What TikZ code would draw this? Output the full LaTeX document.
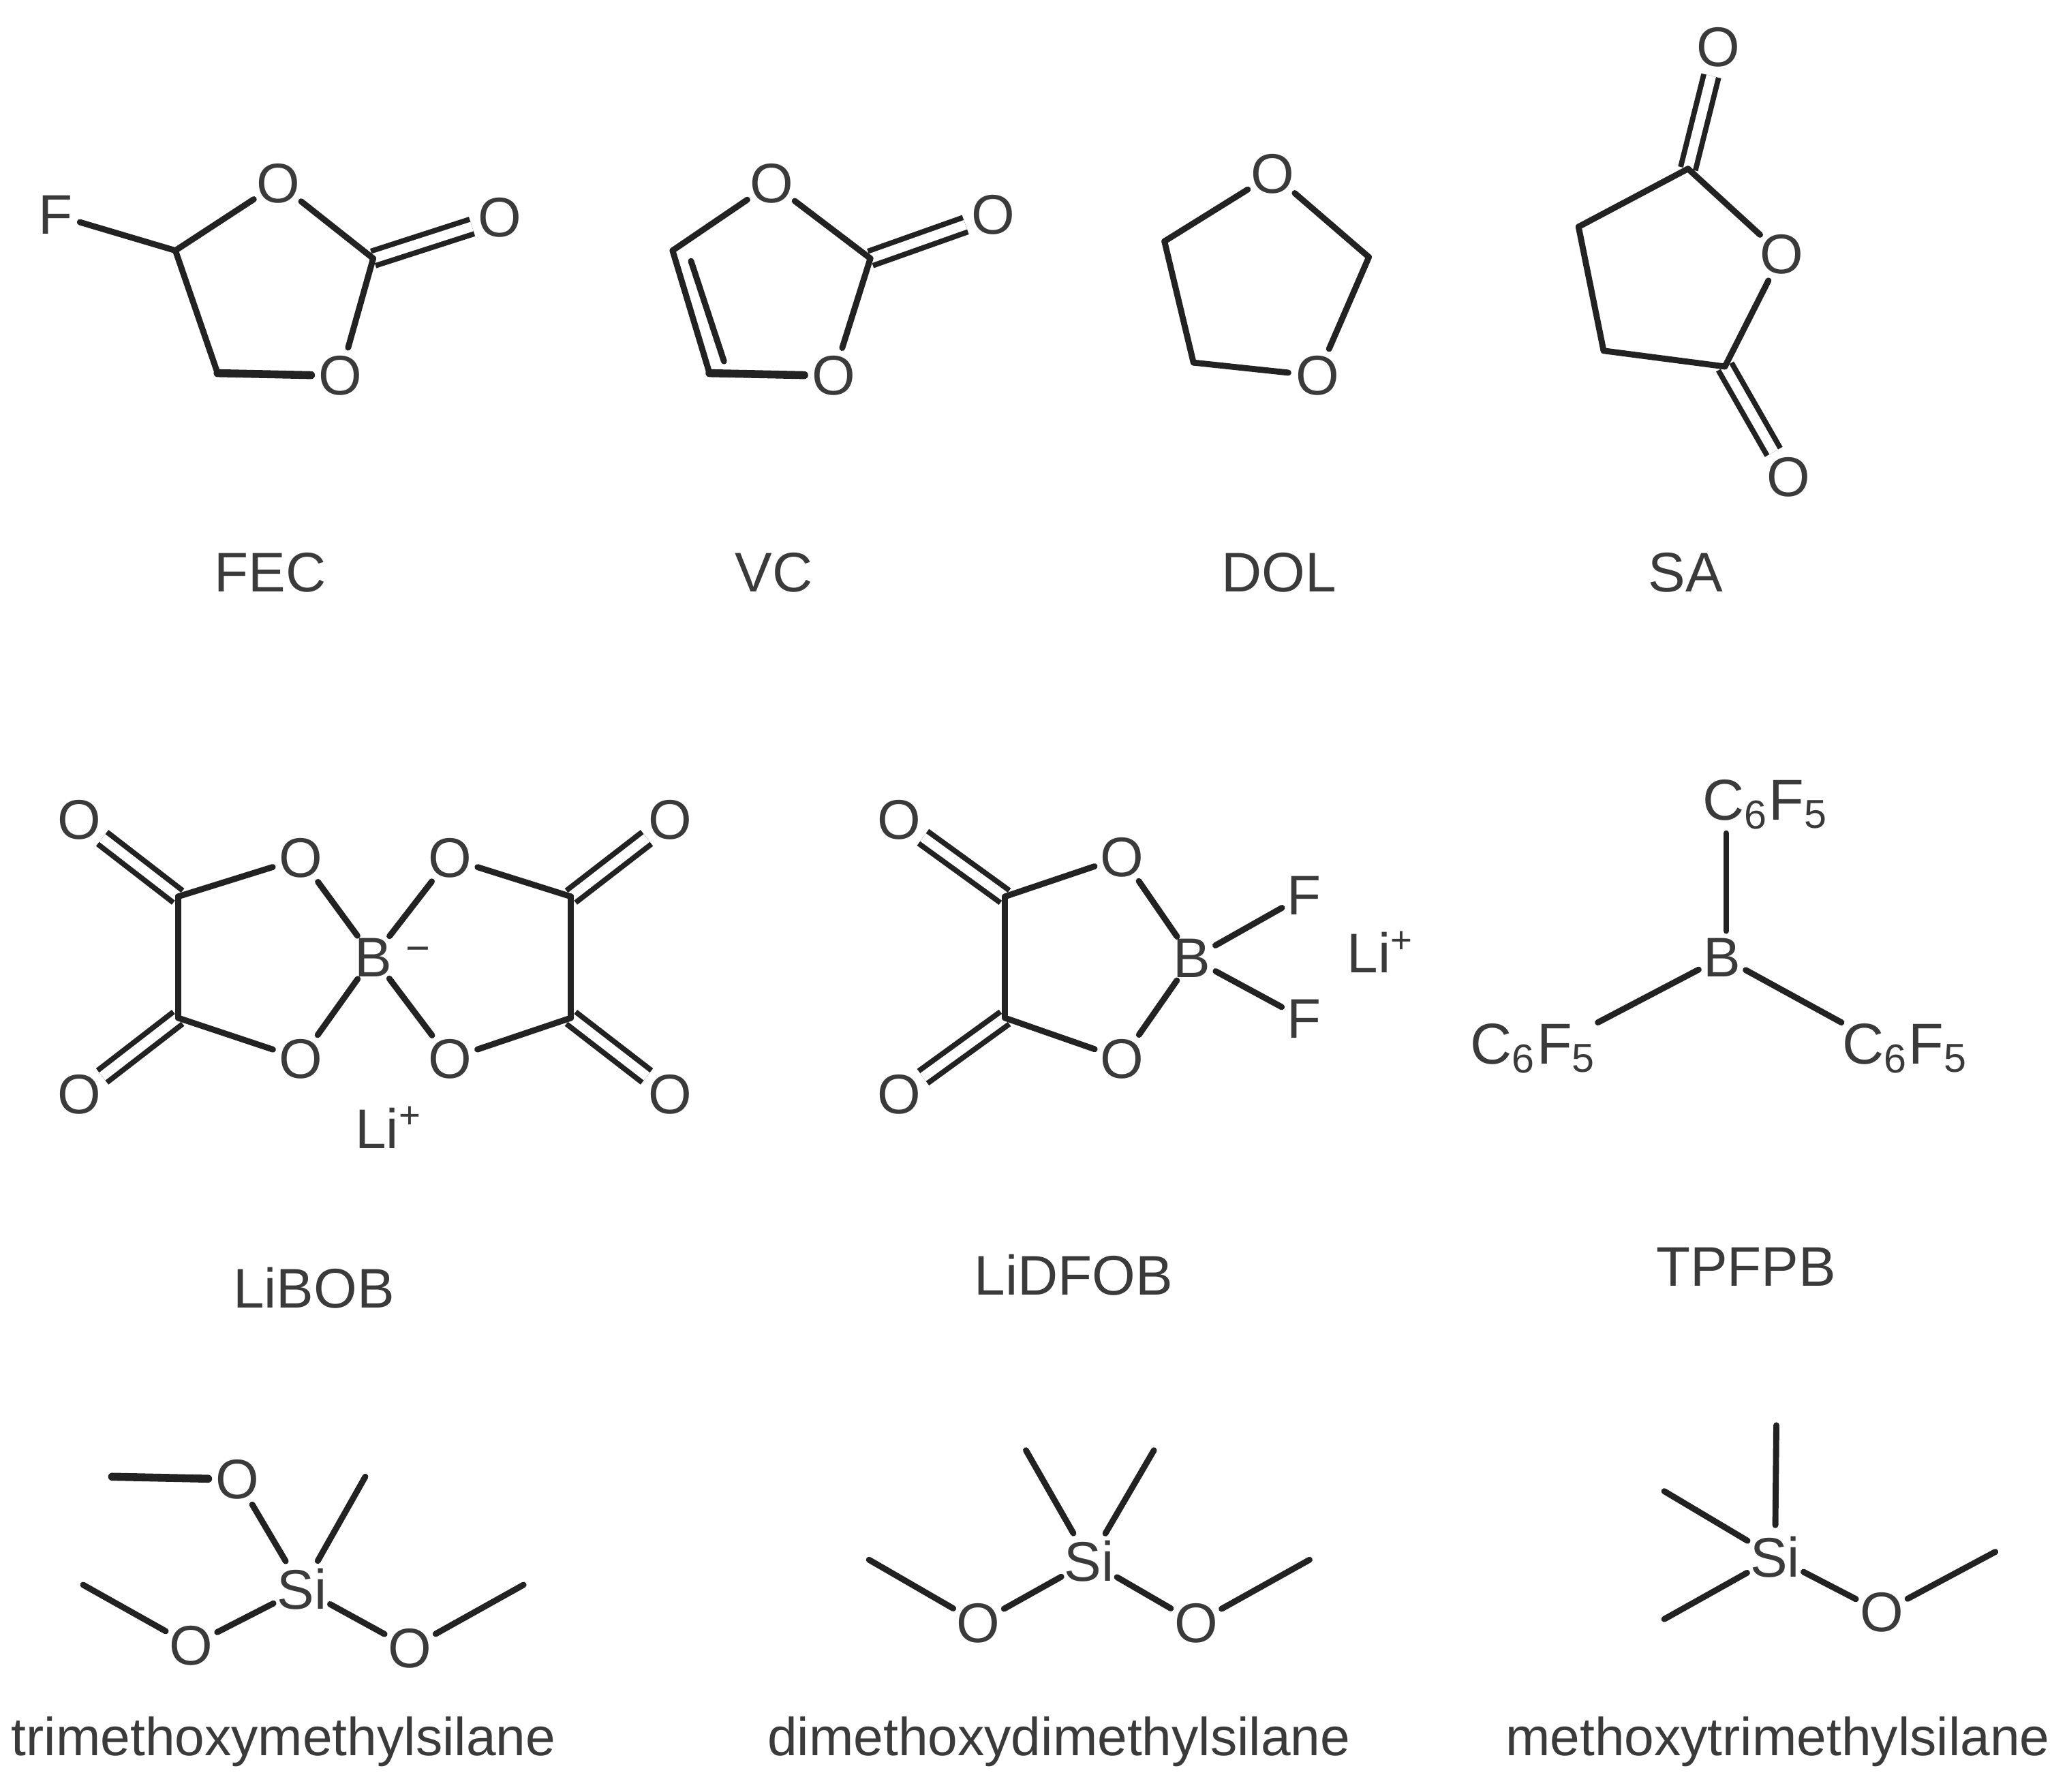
\documentclass[tikz,border=0pt]{standalone}
\usepackage{fontspec}
\setmainfont{Liberation Sans}
\definecolor{inkline}{HTML}{222222}
\definecolor{inktext}{HTML}{3A3A3A}
\tikzset{
    atom/.style={circle,inner sep=0pt,outer sep=0pt,text=inktext,font=\fontsize{12}{14}\selectfont},
    bondline/.style={draw=inkline,line width=1.3pt,line cap=round,line join=round},
    bondthick/.style={bondline,line width=1.7pt},
    bonddouble/.style={draw=inkline,line width=1.15pt,double=white,double distance=2.1pt},
    molname/.style={inner sep=0pt,text=inktext,font=\fontsize{12}{14}\selectfont},
    silname/.style={inner sep=0pt,text=inktext,font=\fontsize{11.5}{14}\selectfont},
    groupname/.style={inner sep=0pt,text=inktext,font=\fontsize{12.4}{14}\selectfont}
}
\begin{document}
\begin{tikzpicture}[x=0.00997cm,y=-0.00997cm]
    \useasboundingbox (0,0) rectangle (1567.4,1359);
    \fill[white] (0,0) rectangle (1567.4,1359);
    % FEC
    \node[atom] (fecF) at (42,163) {F};
    \node[atom] (fecOa) at (211,139) {O};
    \node[atom] (fecOb) at (379,165) {O};
    \node[atom] (fecOc) at (258,285) {O};
    \coordinate (fecCa) at (133,190);
    \coordinate (fecCb) at (283,196);
    \coordinate (fecCc) at (165,283);
    \draw[bonddouble] (fecCb)--(fecOb);
    \foreach \a/\b in {fecF/fecCa,fecCa/fecOa,fecOa/fecCb,fecCb/fecOc,fecCc/fecCa}{
        \draw[bondline] (\a)--(\b);
    }
    \draw[bondthick] (fecOc)--(fecCc);
    \node[molname] (fecName) at (205,434) {FEC};
    % VC
    \node[atom] (vcOa) at (585,139) {O};
    \node[atom] (vcOb) at (753,163) {O};
    \node[atom] (vcOc) at (632,285) {O};
    \coordinate (vcCa) at (660,196);
    \coordinate (vcCb) at (538,283);
    \coordinate (vcCc) at (510,190);
    \coordinate (vcDa) at (524,198);
    \coordinate (vcDb) at (549,274);
    \draw[bonddouble] (vcCa)--(vcOb);
    \foreach \a/\b in {vcCc/vcOa,vcOa/vcCa,vcCa/vcOc,vcCb/vcCc,vcDa/vcDb}{
        \draw[bondline] (\a)--(\b);
    }
    \draw[bondthick] (vcOc)--(vcCb);
    \node[molname] (vcName) at (587,434) {VC};
    % DOL
    \node[atom] (dolOa) at (965,132) {O};
    \node[atom] (dolOb) at (999,285) {O};
    \coordinate (dolCa) at (1038,195);
    \coordinate (dolCb) at (905,275);
    \coordinate (dolCc) at (883,183);
    \foreach \a/\b in {dolCc/dolOa,dolOa/dolCa,dolCa/dolOb,dolOb/dolCb,dolCb/dolCc}{
        \draw[bondline] (\a)--(\b);
    }
    \node[molname] (dolName) at (970,434) {DOL};
    % SA
    \node[atom] (saOa) at (1303,36) {O};
    \node[atom] (saOb) at (1351,193) {O};
    \node[atom] (saOc) at (1356,362) {O};
    \coordinate (saCa) at (1280,128);
    \coordinate (saCb) at (1308,278);
    \coordinate (saCc) at (1216,266);
    \coordinate (saCd) at (1197,172);
    \draw[bonddouble] (saCa)--(saOa);
    \draw[bonddouble] (saCb)--(saOc);
    \foreach \a/\b in {saCd/saCa,saCa/saOb,saOb/saCb,saCb/saCc,saCc/saCd}{
        \draw[bondline] (\a)--(\b);
    }
    \node[molname] (saName) at (1278,434) {SA};
    % LiBOB
    \node[atom] (bobB) at (283,726) {B};
    \node[atom] (bobMinus) at (317,724) {\fontsize{9}{10}\selectfont\textminus};
    \foreach \n/\x/\y in {a/228/651,b/341/651,c/228/803,d/341/803,e/60/622,f/508/622,g/60/830,h/508/830}{
        \node[atom] (bobO\n) at (\x,\y) {O};
    }
    \coordinate (bobCa) at (135,680);
    \coordinate (bobCb) at (135,772);
    \coordinate (bobCc) at (433,680);
    \coordinate (bobCd) at (433,772);
    \foreach \a/\b in {bobCa/bobOe,bobCb/bobOg,bobCc/bobOf,bobCd/bobOh}{
        \draw[bonddouble] (\a)--(\b);
    }
    \foreach \a/\b in {bobCa/bobCb,bobCc/bobCd,bobCa/bobOa,bobCb/bobOc,bobCc/bobOb,bobCd/bobOd,bobOa/bobB,bobOb/bobB,bobOc/bobB,bobOd/bobB}{
        \draw[bondline] (\a)--(\b);
    }
    \node[molname] (bobLi) at (295,855) {Li\textsuperscript{+}};
    \node[molname] (bobName) at (238,977) {LiBOB};
    % LiDFOB
    \node[atom] (dfoB) at (904,727) {B};
    \foreach \n/\x/\y in {a/851/650,b/851/803,c/682/622,d/682/830}{
        \node[atom] (dfoO\n) at (\x,\y) {O};
    }
    \node[atom] (dfoFa) at (989,679) {F};
    \node[atom] (dfoFb) at (989,773) {F};
    \coordinate (dfoCa) at (762,680);
    \coordinate (dfoCb) at (762,772);
    \draw[bonddouble] (dfoCa)--(dfoOc);
    \draw[bonddouble] (dfoCb)--(dfoOd);
    \foreach \a/\b in {dfoCa/dfoCb,dfoCa/dfoOa,dfoCb/dfoOb,dfoOa/dfoB,dfoOb/dfoB,dfoB/dfoFa,dfoB/dfoFb}{
        \draw[bondline] (\a)--(\b);
    }
    \node[molname] (dfoLi) at (1047,722) {Li\textsuperscript{+}};
    \node[molname] (dfoName) at (814,967) {LiDFOB};
    % TPFPB
    \node[atom] (tpfB) at (1306,726) {B};
    \node[groupname] (tpfGa) at (1339,610) {C\textsubscript{6}F\textsubscript{5}};
    \node[groupname] (tpfGb) at (1163,795) {C\textsubscript{6}F\textsubscript{5}};
    \node[groupname] (tpfGc) at (1445,795) {C\textsubscript{6}F\textsubscript{5}};
    \coordinate (tpfUp) at (1309,632);
    \coordinate (tpfDown) at (1309,706);
    \draw[bondline] (tpfDown)--(tpfUp);
    \draw[bondline] (tpfB)--(tpfGb.north east);
    \draw[bondline] (tpfB)--(tpfGc.north west);
    \node[molname] (tpfName) at (1324,961) {TPFPB};
    % trimethoxymethylsilane
    \node[atom] (triSi) at (229,1205) {Si};
    \foreach \n/\x/\y in {a/180/1122,b/145/1248,c/311/1250}{
        \node[atom] (triO\n) at (\x,\y) {O};
    }
    \coordinate (triMa) at (85,1120);
    \coordinate (triMb) at (277,1120);
    \coordinate (triMc) at (63,1202);
    \coordinate (triMd) at (397,1202);
    \foreach \a/\b in {triOa/triSi,triMb/triSi,triMc/triOb,triOb/triSi,triSi/triOc,triOc/triMd}{
        \draw[bondline] (\a)--(\b);
    }
    \draw[bondthick] (triMa)--(triOa);
    \node[silname] (triName) at (215,1321) {trimethoxymethylsilane};
    % dimethoxydimethylsilane
    \node[atom] (diSi) at (826,1184) {Si};
    \node[atom] (diOa) at (742,1231) {O};
    \node[atom] (diOb) at (907,1231) {O};
    \coordinate (diMa) at (659,1183);
    \coordinate (diMb) at (993,1183);
    \coordinate (diMc) at (778,1100);
    \coordinate (diMd) at (875,1100);
    \foreach \a/\b in {diMa/diOa,diOa/diSi,diSi/diOb,diOb/diMb,diMc/diSi,diMd/diSi}{
        \draw[bondline] (\a)--(\b);
    }
    \node[silname] (diName) at (803,1321) {dimethoxydimethylsilane};
    % methoxytrimethylsilane
    \node[atom] (monoSi) at (1346,1181) {Si};
    \node[atom] (monoO) at (1427,1223) {O};
    \coordinate (monoMa) at (1347,1081);
    \coordinate (monoMb) at (1262,1131);
    \coordinate (monoMc) at (1262,1228);
    \coordinate (monoMd) at (1513,1177);
    \foreach \a/\b in {monoMa/monoSi,monoMb/monoSi,monoMc/monoSi,monoSi/monoO,monoO/monoMd}{
        \draw[bondline] (\a)--(\b);
    }
    \node[silname] (monoName) at (1348,1321) {methoxytrimethylsilane};
\end{tikzpicture}
\end{document}
